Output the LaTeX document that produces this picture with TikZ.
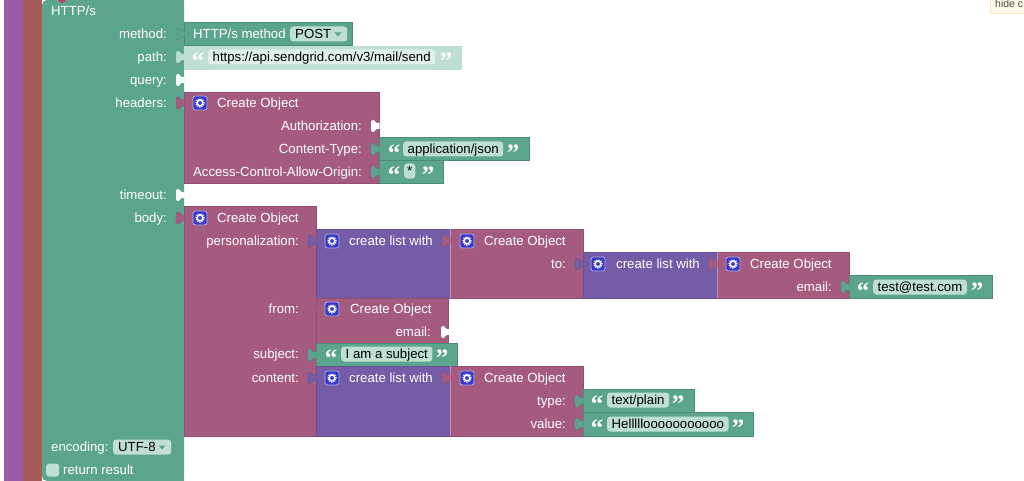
\documentclass[tikz,border=0pt]{standalone}
\usepackage{fontspec}
\setmainfont{Liberation Sans}
\newfontfamily\quotefont{Liberation Serif}
\usepackage{xcolor}

\definecolor{strippurple}{HTML}{9A5CA6}
\definecolor{stripbrown}{HTML}{A55B5B}
\definecolor{blockgreen}{HTML}{5BA58C}
\definecolor{edgegreen}{HTML}{4C8C77}
\definecolor{blockrose}{HTML}{A55B80}
\definecolor{edgerose}{HTML}{934F72}
\definecolor{blockviolet}{HTML}{745CA6}
\definecolor{edgeviolet}{HTML}{685294}
\definecolor{palegreen}{HTML}{BFDFD3}
\definecolor{iconblue}{HTML}{3A3AC8}
\definecolor{tipfill}{HTML}{FFFBE8}
\definecolor{tipedge}{HTML}{FBE7BC}

\tikzset{
	block/.style = {anchor=north west, inner sep=0pt, outer sep=0pt, line width=0.5pt},
	greenblock/.style = {block, fill=blockgreen, draw=edgegreen},
	paleblock/.style = {block, fill=palegreen, draw=palegreen},
	roseblock/.style = {block, fill=blockrose, draw=edgerose},
	violetblock/.style = {block, fill=blockviolet, draw=edgeviolet},
	txt/.style = {inner sep=0pt, text height=10.5pt, text depth=1.5pt, font=\fontsize{13.2}{15}\selectfont},
	lbl/.style = {txt, anchor=east, text=white},
	title/.style = {txt, anchor=west, text=white},
	pill/.style = {txt, anchor=west, fill=palegreen, rounded corners=3pt, inner xsep=4.5pt, minimum height=15pt, text=black},
	dropbox/.style = {anchor=west, fill=palegreen, rounded corners=3pt, inner sep=0pt, minimum height=15pt},
	quot/.style = {anchor=center, inner sep=0pt, text=white, yshift=-4.5pt, font=\quotefont\bfseries\fontsize{25}{25}\selectfont},
	gearbox/.style = {fill=iconblue, draw=white!60!iconblue, line width=0.7pt, rounded corners=2.5pt, minimum size=14pt, inner sep=0pt},
	gearteeth/.style = {circle, draw=white, line width=1.4pt, dash pattern=on 1.2pt off 1pt, minimum size=8pt, inner sep=0pt},
	gearhub/.style = {circle, draw=white, line width=1.2pt, minimum size=5.5pt, inner sep=0pt},
	greentab/.style = {fill=blockgreen, draw=edgegreen, line width=0.4pt},
	paletab/.style = {fill=palegreen, draw=palegreen!85!black, line width=0.4pt},
	rosetab/.style = {fill=blockrose, draw=edgerose, line width=0.4pt},
	violettab/.style = {fill=blockviolet, draw=edgeviolet, line width=0.4pt},
	emptytab/.style = {fill=white}
}

\newcommand{\gearicon}[3]{
	\node[gearbox] (#1) at (#2,#3) {};
	\node[gearteeth] (#1t) at (#1) {};
	\node[gearhub] (#1h) at (#1) {};
}
\newcommand{\puzzle}[3]{
	\path[#3, rounded corners=1.5pt] (#1+0.5,#2-3) -- (#1-4,#2-3) -- (#1-4,#2-6) -- (#1-8,#2-6)
		-- (#1-8,#2+6) -- (#1-4,#2+6) -- (#1-4,#2+3) -- (#1+0.5,#2+3);
}
\newcommand{\dropmark}[2]{
	\fill[blockgreen] (#1-3.5,#2-1.5) -- (#1+3.5,#2-1.5) -- (#1,#2+2.5) -- cycle;
}

\begin{document}
\begin{tikzpicture}[x=1pt, y=-1pt]
	\useasboundingbox (0,0) rectangle (1024,481);
	\clip (0,0) rectangle (1024,481);
	
	\fill[white] (0,0) rectangle (1024,481);
	\fill[strippurple] (4,-5) rectangle (23,490);
	\fill[stripbrown] (23,-5) rectangle (42,490);
	
	% main block
	\node[block, fill=blockgreen, rounded corners=5pt, minimum width=142pt, minimum height=481pt] (http) at (42,0) {};
	\fill[blockgreen] (70,0) rectangle (184,481);
	\fill[blockrose!70!red] (62,-1) circle (4);
	\node[title] (httptitle) at (51,11) {HTTP/s};
	\node[lbl] (lmethod) at (167,34) {method:};
	\node[lbl] (lpath) at (167,57) {path:};
	\node[lbl] (lquery) at (167,80) {query:};
	\node[lbl] (lheaders) at (167,103) {headers:};
	\node[lbl] (ltimeout) at (167,195) {timeout:};
	\node[lbl] (lbody) at (167,218) {body:};
	\node[title] (lencoding) at (51,447) {encoding:};
	\node[dropbox, minimum width=58pt] (utfbox) at (113,447) {};
	\node[txt, anchor=west] (utf) at (118,447) {UTF-8};
	\dropmark{162}{447}
	\node[anchor=west, fill=palegreen, rounded corners=3pt, minimum size=13pt, inner sep=0pt] (retbox) at (46,470) {};
	\node[title] (lreturn) at (63,470) {return result};
	
	% method and path
	\node[greenblock, minimum width=168pt, minimum height=23pt] (method) at (184,22) {};
	\node[title] (methodtxt) at (193,34) {HTTP/s method};
	\node[dropbox, minimum width=57pt] (postbox) at (290,34) {};
	\node[txt, anchor=west] (post) at (295,34) {POST};
	\dropmark{338}{34}
	\node[paleblock, minimum width=277pt, minimum height=23pt] (path) at (184,46) {};
	\node[quot] (pathq1) at (198,57) {“};
	\node[pill, fill=white!50!palegreen] (pathval) at (208,57) {https://api.sendgrid.com/v3/mail/send};
	\node[quot] (pathq2) at (446,57) {”};
	
	% headers
	\node[roseblock, minimum width=195pt, minimum height=91pt] (headers) at (184,92) {};
	\gearicon{hgear}{200}{103}
	\node[title] (htitle) at (217,103) {Create Object};
	\node[lbl] (lauth) at (362,126) {Authorization:};
	\node[lbl] (lctype) at (362,149) {Content-Type:};
	\node[lbl] (lorigin) at (362,172) {Access-Control-Allow-Origin:};
	\node[greenblock, minimum width=150pt, minimum height=23pt] (ctype) at (379,137) {};
	\node[quot] (ctypeq1) at (394,149) {“};
	\node[pill] (ctypeval) at (403,149) {application/json};
	\node[quot] (ctypeq2) at (513,149) {”};
	\node[greenblock, minimum width=64pt, minimum height=23pt] (origin) at (379,160) {};
	\node[quot] (originq1) at (394,171) {“};
	\node[pill, inner xsep=3pt] (originval) at (404,171) {*};
	\node[quot] (originq2) at (428,171) {”};
	
	% body
	\node[roseblock, minimum width=132pt, minimum height=230pt] (body) at (184,206) {};
	\gearicon{bgear}{200}{218}
	\node[title] (btitle) at (217,218) {Create Object};
	\node[lbl] (lpers) at (299,241) {personalization:};
	\node[lbl] (lfrom) at (299,309) {from:};
	\node[lbl] (lsubject) at (299,354) {subject:};
	\node[lbl] (lcontent) at (299,378) {content:};
	
	% personalization
	\node[violetblock, minimum width=134pt, minimum height=69pt] (plist) at (316,229) {};
	\gearicon{pgear}{332}{241}
	\node[title] (plisttxt) at (349,241) {create list with};
	\node[roseblock, minimum width=133pt, minimum height=69pt] (pobj) at (450,229) {};
	\draw[white!35!blockrose] (pobj.north west) -- (pobj.south west);
	\gearicon{qgear}{467}{241}
	\node[title] (pobjtxt) at (484,241) {Create Object};
	\node[lbl] (lto) at (566,264) {to:};
	\node[violetblock, minimum width=134pt, minimum height=46pt] (tolist) at (583,252) {};
	\gearicon{tgear}{598}{264}
	\node[title] (tolisttxt) at (616,264) {create list with};
	\node[roseblock, minimum width=132pt, minimum height=46pt] (toobj) at (717,252) {};
	\draw[white!35!blockrose] (toobj.north west) -- (toobj.south west);
	\gearicon{ugear}{733}{264}
	\node[title] (toobjtxt) at (750,264) {Create Object};
	\node[lbl] (lemail) at (832,287) {email:};
	\node[greenblock, minimum width=143pt, minimum height=23pt] (email) at (849,275) {};
	\node[quot] (emailq1) at (863,287) {“};
	\node[pill] (emailval) at (873,287) {test@test.com};
	\node[quot] (emailq2) at (977,287) {”};
	
	% from
	\node[roseblock, minimum width=132pt, minimum height=46pt] (from) at (316,298) {};
	\gearicon{fgear}{332}{309}
	\node[title] (fromtxt) at (350,309) {Create Object};
	\node[lbl] (lfemail) at (431,332) {email:};
	
	% subject
	\node[greenblock, minimum width=141pt, minimum height=23pt] (subject) at (316,343) {};
	\node[quot] (subjq1) at (331,354) {“};
	\node[pill] (subjval) at (341,354) {I am a subject};
	\node[quot] (subjq2) at (442,354) {”};
	
	% content
	\node[violetblock, minimum width=134pt, minimum height=70pt] (clist) at (316,366) {};
	\gearicon{cgear}{332}{378}
	\node[title] (clisttxt) at (349,378) {create list with};
	\node[roseblock, minimum width=133pt, minimum height=70pt] (cobj) at (450,366) {};
	\draw[white!35!blockrose] (cobj.north west) -- (cobj.south west);
	\gearicon{dgear}{467}{378}
	\node[title] (cobjtxt) at (484,378) {Create Object};
	\node[lbl] (ltype) at (566,401) {type:};
	\node[lbl] (lvalue) at (566,424) {value:};
	\node[greenblock, minimum width=111pt, minimum height=23pt] (type) at (583,389) {};
	\node[quot] (typeq1) at (597,400) {“};
	\node[pill] (typeval) at (607,400) {text/plain};
	\node[quot] (typeq2) at (678,400) {”};
	\node[greenblock, minimum width=170pt, minimum height=24pt] (value) at (583,412) {};
	\node[quot] (valueq1) at (597,424) {“};
	\node[pill] (valueval) at (607,424) {Helllllooooooooooo};
	\node[quot] (valueq2) at (738,424) {”};
	
	% input tabs
	\puzzle{184}{34}{greentab}
	\puzzle{184}{57}{paletab}
	\puzzle{184}{80}{emptytab}
	\puzzle{184}{103}{rosetab}
	\puzzle{184}{195}{emptytab}
	\puzzle{184}{218}{rosetab}
	\puzzle{379}{126}{emptytab}
	\puzzle{379}{149}{greentab}
	\puzzle{379}{172}{greentab}
	\puzzle{316}{241}{violettab}
	\puzzle{316}{309}{rosetab}
	\puzzle{316}{355}{greentab}
	\puzzle{316}{378}{violettab}
	\puzzle{450}{241}{rosetab}
	\puzzle{450}{378}{rosetab}
	\puzzle{583}{264}{violettab}
	\puzzle{583}{401}{greentab}
	\puzzle{583}{424}{greentab}
	\puzzle{717}{264}{rosetab}
	\puzzle{849}{287}{greentab}
	\puzzle{449}{332}{emptytab}
	
	% tooltip
	\node[anchor=north west, fill=tipfill, draw=tipedge, line width=0.8pt, minimum width=50pt, minimum height=18pt] (tip) at (990,-5) {};
	\node[anchor=west, inner sep=0pt, text=black!70, font=\fontsize{10.5}{12}\selectfont] (tiptxt) at (995,4) {hide c};
\end{tikzpicture}
\end{document}
